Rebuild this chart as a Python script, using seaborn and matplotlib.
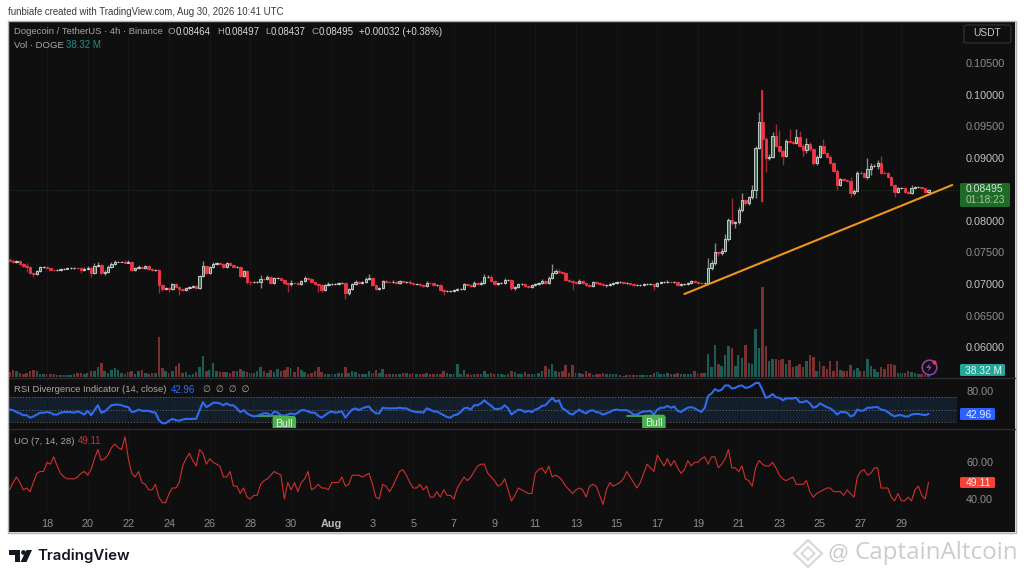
import numpy as np
import pandas as pd
import matplotlib
matplotlib.use('Agg')
import matplotlib.pyplot as plt
from matplotlib.patches import Polygon, Rectangle, FancyBboxPatch
import seaborn as sns

# all OHLC numbers are price x 1e5, one row is 2 days of 4h candles
close_pts = [
    7370,7349,7360,7317,7286,7264,7180,7159,7200,7264,7270,7254,
    7227,7222,7222,7233,7243,7254,7254,7259,7249,7222,7243,7259,
    7170,7286,7302,7169,7196,7275,7317,7354,7354,7354,7338,7354,
    7222,7249,7275,7249,7286,7238,7222,7222,6984,6915,6931,6915,
    6995,6958,6915,6905,6942,6958,6968,6942,7127,7286,7169,7264,
    7317,7328,7312,7275,7328,7307,7275,7275,7132,7206,7037,7026,
    7026,7037,7079,7074,7106,7021,7090,7090,7063,7011,7000,7021,
    7011,7000,7053,7090,7074,7037,7000,6984,6905,6984,7000,7000,
    7000,7011,7011,6852,6915,7000,7037,7021,7026,7074,7090,6984,
    6920,6931,7047,7037,7032,7037,7021,7042,7037,7037,7021,6995,
    6995,6984,6968,7021,7011,6984,6984,6905,6894,6894,6894,6905,
    6915,6926,6995,6984,6968,7021,7000,7021,7106,7116,7053,7000,
    7011,7011,7063,7063,6931,6947,6995,6995,6968,6958,6984,7000,
    7011,7053,7021,7090,7180,7206,7185,7169,7063,7053,7037,7021,
    7053,7021,6984,6974,7026,7011,7000,6984,6984,7000,7011,7026,
    7026,7011,7011,7000,6984,6984,6984,6995,7000,7000,6968,7011,
    7026,7026,7037,7032,7037,6984,6995,7000,7011,7043,7027,7022,
    7011,7011,7249,7328,7503,7498,7530,7715,8016,7963,7979,8175,
    8334,8281,8376,8492,9154,9566,9302,8995,9011,9355,9196,9117,
    9032,9275,9259,9243,9339,9191,9127,9222,9138,8916,9021,9191,
    9085,9021,8916,8799,8572,8662,8651,8635,8440,8482,8767,8757,
    8693,8820,8873,8873,8915,8767,8757,8704,8572,8466,8519,8519,
    8466,8450,8519,8535,8535,8519,8466,8495,
]
upper_wick = [
    30,20,25,15,15,40,15,15,20,25,10,15,
    15,10,10,20,15,10,10,15,15,15,20,25,
    20,40,55,15,20,25,30,30,15,15,20,20,
    15,25,25,15,15,15,10,15,15,15,15,15,
    15,15,15,15,15,15,20,15,20,85,15,20,
    30,15,15,15,15,15,15,15,15,20,15,15,
    15,15,60,20,30,15,20,15,10,15,15,50,
    15,15,15,30,15,15,15,15,15,15,25,20,
    15,15,15,15,20,20,25,15,25,30,65,15,
    15,15,15,20,15,25,15,20,15,15,20,15,
    15,15,15,25,15,15,15,15,15,15,15,15,
    15,15,20,15,15,30,15,25,50,25,20,15,
    15,20,25,15,15,20,15,15,15,15,15,20,
    25,25,15,30,135,35,25,15,15,15,15,15,
    20,15,15,15,25,15,15,15,20,20,15,25,
    15,15,15,15,15,15,15,15,15,20,15,20,
    25,15,20,15,15,15,15,15,20,15,15,15,
    15,15,170,50,145,15,40,80,30,344,20,50,
    115,15,20,75,30,160,513,30,60,60,185,250,
    20,30,180,30,115,90,30,90,30,20,20,20,
    105,15,20,15,20,15,20,15,60,20,20,20,
    20,175,40,30,50,115,20,20,15,15,20,20,
    15,15,50,20,15,10,10,10,
]
lower_wick = [
    10,15,15,15,15,70,20,50,20,15,10,15,
    10,10,10,10,10,10,10,15,15,45,15,15,
    60,15,15,15,30,15,15,10,10,10,10,10,
    15,15,15,15,15,15,15,15,130,20,15,40,
    15,15,90,20,15,15,15,15,15,15,15,15,
    15,15,15,15,15,15,15,15,15,15,30,40,
    15,15,106,15,15,15,15,15,20,15,120,30,
    15,15,15,15,15,20,15,105,25,20,15,15,
    15,15,15,95,25,15,15,15,15,15,15,20,
    15,15,15,15,15,15,15,15,15,15,15,15,
    15,15,15,15,15,15,15,20,70,25,15,15,
    15,15,15,15,15,15,15,15,15,15,15,15,
    15,15,15,15,25,25,15,15,15,15,15,15,
    15,15,15,15,15,15,15,15,15,15,130,15,
    15,15,15,15,15,15,15,15,25,15,15,15,
    15,15,15,15,15,15,15,15,15,15,60,15,
    15,15,15,15,15,15,15,15,15,15,15,15,
    15,15,15,30,20,60,30,30,30,20,70,30,
    30,20,25,30,130,15,995,220,30,10,15,20,
    140,15,20,25,15,20,100,50,20,30,30,15,
    15,15,15,15,80,15,15,20,55,30,15,15,
    15,20,90,20,50,20,15,15,20,80,25,15,
    15,20,20,15,15,15,20,15,
]
volume_m = [
    60,90,80,50,42,50,75,83,75,40,33,33,
    36,40,25,28,28,28,24,40,52,48,36,56,
    80,72,120,180,72,48,88,112,88,48,32,60,
    80,40,72,88,50,40,48,56,500,112,80,50,
    80,140,180,50,60,30,40,60,130,260,80,85,
    170,70,60,60,60,45,80,72,100,70,60,55,
    50,70,130,70,55,90,60,100,80,90,120,110,
    60,130,90,60,40,48,72,120,60,40,40,40,
    40,48,48,120,48,72,64,40,40,40,72,56,
    88,56,100,40,32,32,40,32,56,48,32,48,
    40,32,32,48,32,40,32,40,80,56,40,32,
    160,40,88,32,24,40,40,32,80,40,56,40,
    32,32,24,32,80,60,32,40,60,40,32,32,
    56,72,136,100,168,72,64,72,144,56,144,56,
    56,40,72,48,20,32,40,48,32,32,32,40,
    24,16,20,20,28,28,20,24,28,24,56,64,
    40,40,56,40,40,48,40,40,40,40,72,48,
    56,48,288,120,400,168,140,280,392,368,132,280,
    240,400,180,160,600,360,1125,384,200,220,220,208,
    220,168,208,120,140,160,128,200,280,248,80,200,
    140,100,200,72,200,88,72,80,152,88,112,80,
    72,220,140,100,60,120,100,168,160,152,48,48,
    48,72,60,48,40,32,20,38.32,
]
rsi_values = [
    50,49,46,44,41,41,37,39,42,45,45,46,
    45,42,42,45,46,46,46,45,47,45,42,48,
    41,49,57,45,47,52,57,58,58,57,55,54,
    46,47,50,48,48,48,46,45,33,28,28,32,
    35,33,32,34,35,35,35,35,49,62,54,57,
    61,61,60,57,60,57,57,52,46,49,44,41,
    39,40,42,44,44,40,47,45,41,40,42,44,
    42,45,49,49,47,45,45,40,37,41,45,47,
    45,46,47,37,44,50,52,49,52,54,55,48,
    44,44,53,52,52,52,52,53,52,52,49,47,
    46,46,45,52,50,47,47,44,41,38,37,41,
    42,46,52,53,50,57,57,60,65,60,56,51,
    51,52,57,52,42,46,50,49,46,48,46,50,
    52,56,57,63,69,63,65,52,49,44,42,46,
    50,46,44,48,49,46,45,42,44,46,49,50,
    49,49,49,46,42,42,45,47,47,48,42,50,
    53,53,56,53,55,48,46,50,53,54,52,49,
    46,53,72,76,83,80,82,89,89,84,85,88,
    89,85,86,89,93,93,82,69,71,75,70,69,
    65,68,68,68,69,62,62,64,60,53,55,60,
    57,54,52,48,42,46,46,45,39,41,50,48,
    49,53,53,54,54,50,49,46,42,39,41,41,
    39,39,42,43,43,42,41,42.96,
]
uo_values = [
    45,49,52,49,45,46,44,49,54,55,55,60,
    59,63,58,54,52,51,51,51,52,54,55,53,
    56,62,67,61,62,64,68,70,68,67,74,62,
    54,52,55,49,48,45,45,48,41,38,38,43,
    46,46,49,58,62,65,61,58,67,65,59,62,
    60,59,58,52,52,55,47,47,43,46,41,40,
    42,42,48,50,51,53,55,54,53,40,49,45,
    49,44,49,51,55,45,46,48,46,46,45,49,
    49,49,52,47,48,53,53,53,52,53,54,48,
    41,40,48,47,44,47,51,55,56,53,49,46,
    46,48,45,47,41,41,44,41,45,42,42,40,
    46,49,52,50,52,55,58,59,59,54,52,50,
    47,48,51,45,39,42,46,45,44,43,43,54,
    56,57,54,58,52,53,52,50,47,45,43,45,
    46,45,41,47,48,47,42,37,45,49,47,48,
    49,51,55,52,49,46,49,54,59,57,55,64,
    61,58,62,58,61,57,54,56,61,58,60,60,
    62,63,59,63,63,57,59,62,67,57,57,55,
    58,51,50,47,57,61,59,58,58,60,57,53,
    51,50,51,52,48,48,48,50,44,41,43,44,
    45,46,46,44,44,44,42,45,43,41,52,55,
    56,53,54,57,57,46,46,46,41,39,43,39,
    39,41,39,45,47,42,40,49.11,
]

first_candle = -11
day_labels = ['18', '20', '22', '24', '26', '28', '30', 'Aug', '3', '5', '7', '9', '11',
              '13', '15', '17', '19', '21', '23', '25', '27', '29']
price_ticks = [0.06, 0.065, 0.07, 0.075, 0.08, 0.085, 0.09, 0.095, 0.10, 0.105]
trend_k = [188, 267]
trend_price = [0.06841, 0.08571]
bull_spans = [(62, 70, 40), (171, 178, 40)]
bull_labels = [(70, 27), (179, 29)]

BG = '#0f0f0f'
GREY = '#a8a8a8'
FW, FH = 1024, 579


def add_axes(x0, y0, x1, y1):
    # pixel box, y measured from the top like in the screenshot
    return fig.add_axes([x0 / FW, 1 - y1 / FH, (x1 - x0) / FW, (y1 - y0) / FH])


def label(x, y, s, color=GREY, size=6.8, **kw):
    return fig.text(x / FW, 1 - y / FH, s, color=color, fontsize=size, va='center', **kw)


def badge(x0, y0, x1, y1, color):
    fig.add_artist(FancyBboxPatch((x0 / FW, 1 - y1 / FH), (x1 - x0) / FW, (y1 - y0) / FH,
                                  boxstyle='round,pad=0,rounding_size=0.002', fc=color, ec='none',
                                  transform=fig.transFigure, zorder=5))


def px(points):
    return [(x / FW, 1 - y / FH) for x, y in points]


sns.set_theme(style='dark', rc={'axes.facecolor': BG, 'figure.facecolor': 'white'})
plt.rcParams['font.family'] = ['Liberation Sans', 'DejaVu Sans']

fig = plt.figure(figsize=(10.24, 5.79), dpi=100)

# panel behind everything
ax_bg = add_axes(8, 21, 1016, 533)
ax_bg.set_facecolor(BG)
ax_bg.set_xticks([])
ax_bg.set_yticks([])
ax_bg.set_zorder(-5)

closes = np.array(close_pts) / 1e5
opens = np.r_[closes[0] + 0.00007, closes[:-1]]
highs = np.maximum(opens, closes) + np.array(upper_wick) / 1e5
lows = np.minimum(opens, closes) - np.array(lower_wick) / 1e5
k = np.arange(first_candle, first_candle + len(closes))
is_up = closes >= opens

df = pd.DataFrame({'k': k, 'volume': volume_m, 'rsi': rsi_values, 'uo': uo_values,
                   'side': np.where(is_up, 'up', 'down')})

xlim = (-11.5, 268.4)

# volume sits under the candles in the same pane
ax_vol = add_axes(8, 21, 957, 377)
ax_vol.set_zorder(1)
sns.barplot(data=df, x='k', y='volume', hue='side', palette={'up': '#1c5c54', 'down': '#7a2f30'},
            dodge=False, native_scale=True, legend=False, saturation=1, width=0.75,
            linewidth=0, edgecolor='none', ax=ax_vol)
ax_vol.set_ylim(0, 4450)
ax_vol.set_xlabel('')
ax_vol.set_ylabel('')
ax_vol.set_yticks([])

ax_price = add_axes(8, 21, 957, 377)
ax_price.set_zorder(2)
ax_price.patch.set_alpha(0)
wick_col = np.where(is_up, '#8a8a8a', '#9c2a35')
ax_price.vlines(k, lows, highs, colors=wick_col, linewidth=1.0, zorder=2)
spike = np.argmax(highs)
ax_price.vlines(k[spike], lows[spike], highs[spike], colors='#f23645', linewidth=1.1, zorder=2)
ax_price.bar(k[~is_up], (opens - closes)[~is_up], bottom=closes[~is_up], width=0.75,
             color='#f23645', edgecolor='#f23645', linewidth=0.6, zorder=3)
ax_price.bar(k[is_up], (closes - opens)[is_up], bottom=opens[is_up], width=0.66,
             color='#3f6f55', edgecolor='#dcdcdc', linewidth=0.6, zorder=3)
ax_price.plot(trend_k, trend_price, color='#f0941f', linewidth=1.5, zorder=4)
ax_price.axhline(closes[-1], color='#1e4d2b', linewidth=0.6, linestyle=(0, (1, 2)), zorder=1)
ax_price.set_ylim(0.05524, 0.11174)
ax_price.set_yticks(price_ticks)
ax_price.set_yticklabels([f'{p:.5f}' if p != 0.085 else '' for p in price_ticks])
ax_price.yaxis.tick_right()
ax_price.tick_params(axis='y', length=0, pad=6.5, labelsize=7.8)
for i, t in enumerate(ax_price.get_yticklabels()):
    t.set_color('#c4c4c4' if i % 2 == 0 else '#8e8e8e')

# rsi pane
ax_rsi = add_axes(8, 378, 957, 428)
ax_rsi.set_zorder(1)
ax_rsi.axhspan(30, 70, color='#13202c', linewidth=0, zorder=0)
for lvl in (30, 50, 70):
    ax_rsi.axhline(lvl, color='#6b7075', linewidth=0.7, linestyle=(0, (1, 2)), zorder=1)
sns.lineplot(data=df, x='k', y='rsi', color='#2f6bf0', linewidth=1.5, ax=ax_rsi, zorder=3)
for a, b, v in bull_spans:
    ax_rsi.plot([a, b], [v, v], color='#4caf50', linewidth=1.2, zorder=2)
for bx, by in bull_labels:
    ax_rsi.text(bx, by, 'Bull', color='#e8f5e9', fontsize=7.6, ha='center', va='center', zorder=4,
                bbox=dict(boxstyle='round,pad=0.28', fc='#4caf50', ec='none'), clip_on=True)
ax_rsi.set_ylim(20.3, 101)
ax_rsi.set_yticks([80])
ax_rsi.set_yticklabels(['80.00'])
ax_rsi.yaxis.tick_right()
ax_rsi.tick_params(axis='y', length=0, pad=6.5, labelsize=7.8, labelcolor='#8e8e8e')
ax_rsi.set_xlabel('')
ax_rsi.set_ylabel('')

# uo pane
ax_uo = add_axes(8, 429, 957, 512)
ax_uo.set_zorder(1)
sns.lineplot(data=df, x='k', y='uo', color='#d0302f', linewidth=0.8, ax=ax_uo)
ax_uo.set_ylim(32.9, 78.2)
ax_uo.set_yticks([40, 60])
ax_uo.set_yticklabels(['40.00', '60.00'])
ax_uo.yaxis.tick_right()
ax_uo.tick_params(axis='y', length=0, pad=6.5, labelsize=7.8, labelcolor='#8e8e8e')
ax_uo.set_xlabel('')
ax_uo.set_ylabel('')

for ax in (ax_price, ax_vol, ax_rsi, ax_uo):
    ax.set_xlim(xlim)
    ax.set_xticks(np.arange(0, 253, 12))
    ax.grid(axis='x', color='#161616', linewidth=0.6)
    ax.set_axisbelow(True)
    for s in ax.spines.values():
        s.set_visible(False)
    if ax is not ax_uo:
        ax.set_xticklabels([])
        ax.tick_params(axis='x', length=0)
ax_rsi.set_facecolor(BG)
ax_uo.set_facecolor(BG)
ax_uo.set_xticklabels(day_labels)
ax_uo.tick_params(axis='x', length=0, pad=5, labelsize=7.8, labelcolor='#8e8e8e')
ax_uo.get_xticklabels()[7].set_fontweight('bold')
ax_uo.get_xticklabels()[7].set_color('#b8b8b8')

# frame and pane separators
fig.add_artist(Rectangle((8 / FW, 1 - 533 / FH), 1008 / FW, 512 / FH, fc='none', ec='#b4b4b4', linewidth=1.0,
                         transform=fig.transFigure, zorder=20))
for y in (377.5, 428.5):
    fig.add_artist(plt.Line2D([8 / FW, 1016 / FW], [1 - y / FH] * 2, color='#2a2d34', linewidth=1.0, zorder=10))

# header texts
label(8, 12, 'funbiafe created with TradingView.com, Aug 30, 2026 10:41 UTC', color='#3a3a3a', size=6.9)
label(14, 32, 'Dogecoin / TetherUS · 4h · Binance', zorder=6)
for x, s in [(168, 'O'), (217, 'H'), (265, 'L'), (311, 'C')]:
    label(x, 32, s, zorder=6)
for x, s in [(176, '0.08464'), (225, '0.08497'), (271, '0.08437'), (319, '0.08495'), (359, '+0.00032 (+0.38%)')]:
    label(x, 32, s, color='#d8d8d8', size=7.0, zorder=6)
label(14, 45, 'Vol · DOGE', zorder=6)
label(66, 45, '38.32 M', color='#1f8f83', size=7.0, zorder=6)
label(14, 390, 'RSI Divergence Indicator (14, close)', zorder=6)
label(171, 390, '42.96', color='#2f6bf0', size=7.0, zorder=6)
label(203, 390, '∅  ∅  ∅  ∅', size=6.5, zorder=6)
label(14, 441, 'UO (7, 14, 28)', zorder=6)
label(78, 441, '49.11', color='#d0302f', size=7.0, zorder=6)

# USDT box and price badges
fig.add_artist(FancyBboxPatch((964 / FW, 1 - 43 / FH), 47 / FW, 18 / FH, boxstyle='round,pad=0,rounding_size=0.003',
                              fc=BG, ec='#33363d', linewidth=0.8, transform=fig.transFigure, zorder=5))
label(987.5, 33.5, 'USDT', color='#c8c8c8', ha='center', size=7.4, zorder=6)
badge(960, 183, 1010, 207, '#1e6b28')
label(966, 189.5, '0.08495', color='#d6e6d6', size=7.5, zorder=6)
label(966, 200, '01:18:23', color='#a6c6a6', size=7.3, zorder=6)
badge(960, 364, 1005, 376, '#26a69a')
label(965, 370.5, '38.32 M', color='#e8f6f4', size=7.3, zorder=6)
badge(960, 408, 995, 420, '#2962ff')
label(966, 414.5, '42.96', color='#e6ecff', size=7.5, zorder=6)
badge(960, 477, 995, 488, '#f44336')
label(966, 482.5, '49.11', color='#ffe9e7', size=7.5, zorder=6)

# lightning icon
t = fig.transFigure
fig.add_artist(plt.Line2D([929 / FW], [1 - 367 / FH], marker='o', markersize=10.5, mfc='none', mec='#8e3fa8', mew=1.2, zorder=6))
fig.add_artist(plt.Line2D([934 / FW], [1 - 362 / FH], marker='o', markersize=3, mfc='#f23645', mec='none', zorder=7))
fig.add_artist(Polygon(px([(930.5, 362.5), (926, 368), (929, 368), (927.5, 372), (932, 366.5), (929, 366.5)]),
                       fc='#8e3fa8', ec='none', transform=t, zorder=6))

# TradingView logo
fig.add_artist(Polygon(px([(9, 550), (20, 550), (20, 562), (14.5, 562), (14.5, 555), (9, 555)]), fc='#131722', ec='none', transform=t))
fig.add_artist(plt.Line2D([23.3 / FW], [1 - 552.4 / FH], marker='o', markersize=3.4, mfc='#131722', mec='none'))
fig.add_artist(Polygon(px([(26.5, 550), (32, 550), (26.5, 562), (20.5, 562)]), fc='#131722', ec='none', transform=t))
label(37, 556, 'TradingView', color='#131722', size=10.8, family=['Inter', 'DejaVu Sans'], fontweight='semibold')

# watermark
label(827, 553, '@', color='#c9c9c9', size=15)
label(855, 553, 'CaptainAltcoin', color='#cdcdcd', size=17.4, family=['Open Sans', 'DejaVu Sans'])
fig.add_artist(Polygon(px([(808, 540), (822, 553.5), (808, 567), (794, 553.5)]), fc='none', ec='#d8d8d8', linewidth=1.6, transform=t))
fig.add_artist(Polygon(px([(808, 547), (814.5, 553.5), (808, 560), (801.5, 553.5)]), fc='none', ec='#d8d8d8', linewidth=1.4, transform=t))

fig.savefig('out.png', dpi=100)
